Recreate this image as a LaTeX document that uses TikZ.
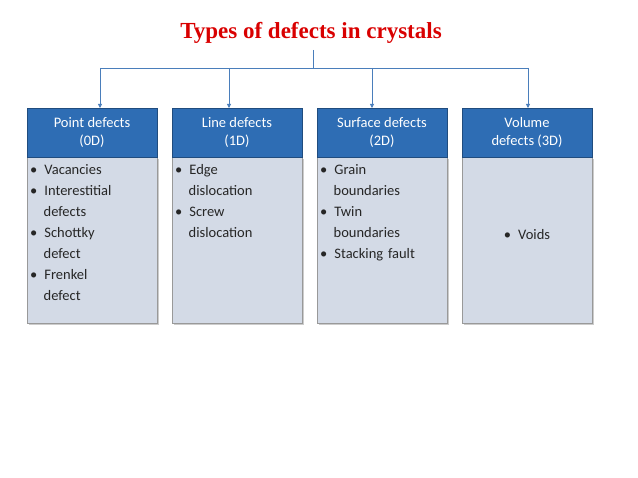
\documentclass[tikz,border=0pt]{standalone}
\usepackage{fontspec}
\setmainfont{Carlito}
\newfontfamily\titlefont{Liberation Serif}
\usetikzlibrary{arrows.meta,shadows}
\definecolor{hdr}{HTML}{2E6DB4}
\definecolor{bodyc}{HTML}{D3DAE6}
\definecolor{conn}{HTML}{4A7EBB}
\tikzset{
 hbox/.style={draw=hdr!70!black,fill=hdr,minimum width=130pt,minimum height=49pt,text=white,align=center,font=\fontsize{14.5}{18}\selectfont,inner sep=2pt},
 bbox/.style={draw=gray!80,fill=bodyc,minimum width=130pt,minimum height=166pt,drop shadow={shadow xshift=2pt,shadow yshift=-2pt,opacity=0.4}},
 btext/.style={text=black!85,align=left,font=\fontsize{14.5}{21}\selectfont,text width=108pt,inner sep=0pt},
 conn/.style={draw=conn,line width=0.8pt},
 arr/.style={conn,-{Triangle[width=4pt,length=4pt]}}
}
\newcommand{\bl}{\textbullet\hspace{7pt}}
\newcommand{\ind}{\hspace*{13.5pt}}
\begin{document}
\begin{tikzpicture}[x=1pt,y=-1pt]
\useasboundingbox (0,0) rectangle (638,478);
\node[text=red!85!black,font=\titlefont\fontsize{23}{26}\selectfont\bfseries] (title) at (311,33) {Types of defects in crystals};
\coordinate (top) at (313,50);
\coordinate (mid) at (313,68);
\coordinate (l) at (100,68);
\coordinate (r) at (528,68);
\foreach \n/\x in {a/92,b/237,c/382,d/527}{
 \node[bbox,anchor=north] (\n body) at (\x,157) {};
 \node[hbox,anchor=north] (\n) at (\x,108) {};
}
\node[hbox,draw=none,fill=none] at (a) {Point defects\\(0D)};
\node[hbox,draw=none,fill=none] at (b) {Line defects\\(1D)};
\node[hbox,draw=none,fill=none] at (c) {Surface defects\\(2D)};
\node[hbox,draw=none,fill=none] at (d) {Volume\\defects (3D)};
\node[btext,anchor=north west] (ta) at (30,164) {\bl Vacancies\\\bl Interestitial\\\ind defects\\\bl Schottky\\\ind defect\\\bl Frenkel\\\ind defect};
\node[btext,anchor=north west] (tb) at (175,164) {\bl Edge\\\ind dislocation\\\bl Screw\\\ind dislocation};
\node[btext,anchor=north west] (tc) at (320,164) {\bl Grain\\\ind boundaries\\\bl Twin\\\ind boundaries\\\bl Stacking fault};
\node[btext,align=center,text width=100pt] (td) at (527,235) {\textbullet\hspace{7pt}Voids};
\draw[conn] (top) -- (mid);
\draw[conn] (l) -- (r);
\draw[arr] (l) -- (100,108);
\draw[arr] (229,68) -- (229,108);
\draw[arr] (372,68) -- (372,108);
\draw[arr] (r) -- (528,108);
\end{tikzpicture}
\end{document}
